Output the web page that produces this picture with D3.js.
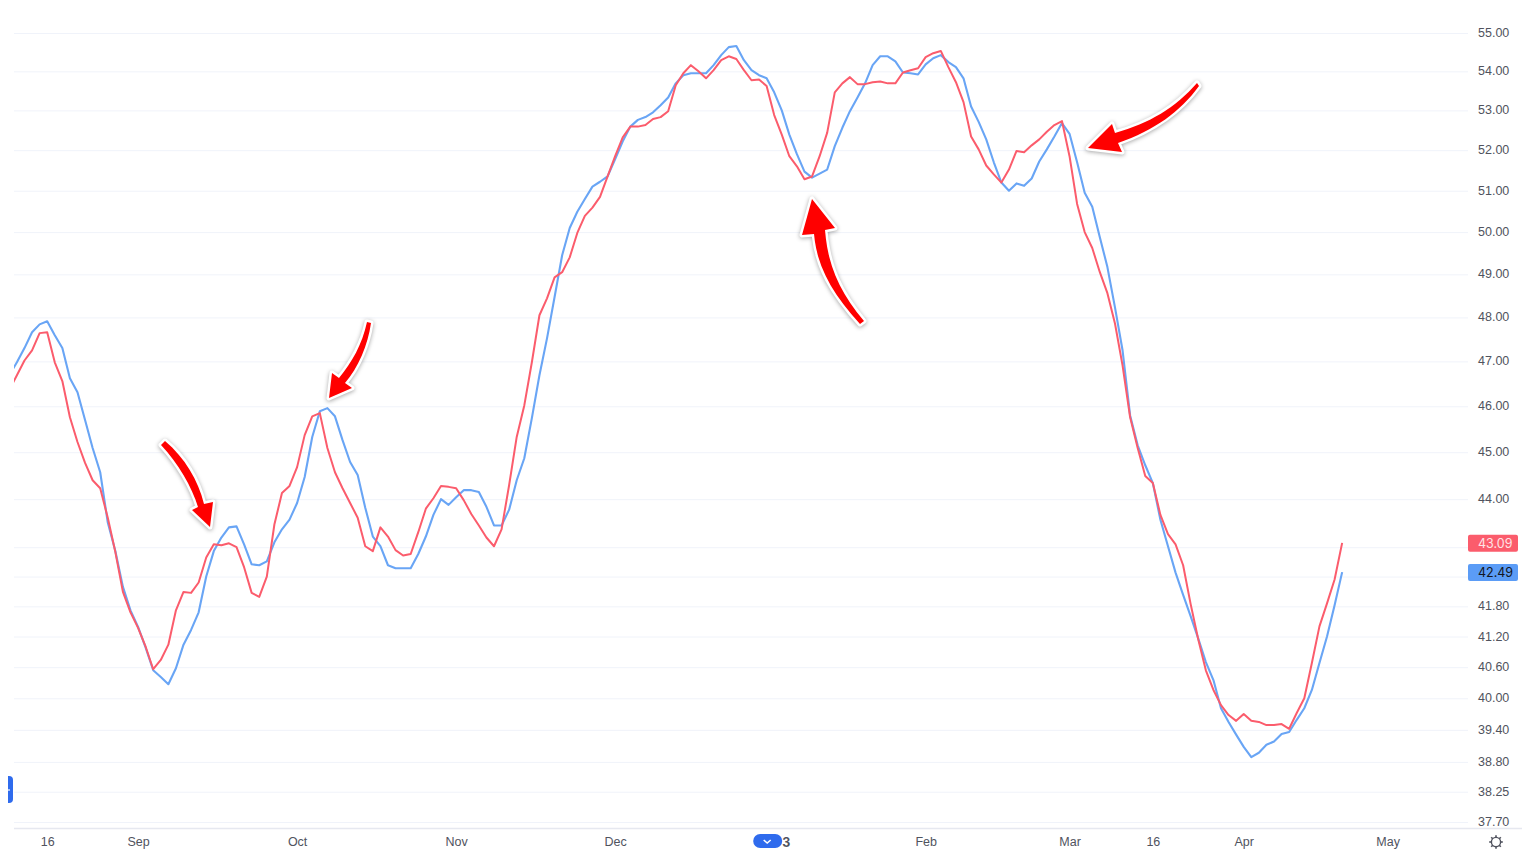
<!DOCTYPE html>
<html>
<head>
<meta charset="utf-8">
<script src="https://d3js.org/d3.v7.min.js"></script>
<style>
  html, body { margin: 0; padding: 0; background: #fff; overflow: hidden; }
  svg { display: block; font-family: Inter, "Noto Sans", sans-serif; }
  .axis text { font-size: 12.5px; fill: #50535e; }
  .arrow { fill: #ff0000; stroke: #fff; stroke-width: 5px; stroke-linejoin: round; paint-order: stroke;
           filter: drop-shadow(0 1px 2px rgba(0,0,0,.35)); }
</style>
</head>
<body>
<svg width="1536" height="867"></svg>
<script>
// one value per trading day
const redSeries = [
  46.36,46.69,47.02,47.25,47.64,47.66,46.98,46.56,45.76,45.22,
  44.77,44.40,44.23,43.61,42.90,42.09,41.68,41.37,41.00,40.56,
  40.74,41.04,41.72,42.09,42.07,42.28,42.79,43.06,43.04,43.08,
  43.00,42.59,42.07,41.99,42.40,43.47,44.13,44.28,44.68,45.37,
  45.78,45.85,45.09,44.57,44.23,43.92,43.61,43.02,42.92,43.41,
  43.22,42.94,42.83,42.86,43.31,43.80,44.02,44.28,44.26,44.23,
  43.98,43.69,43.45,43.20,43.02,43.37,44.30,45.33,46.02,46.98,
  48.05,48.44,48.93,49.05,49.40,49.98,50.39,50.59,50.85,51.35,
  51.85,52.32,52.59,52.59,52.63,52.78,52.83,52.98,53.64,53.95,
  54.16,54.00,53.82,54.03,54.29,54.39,54.32,54.03,53.77,53.79,
  53.62,52.88,52.39,51.85,51.60,51.28,51.35,51.85,52.44,53.46,
  53.69,53.85,53.67,53.67,53.72,53.74,53.69,53.69,53.97,54.03,
  54.08,54.37,54.47,54.53,54.11,53.72,53.21,52.34,52.02,51.62,
  51.40,51.20,51.52,51.98,51.95,52.12,52.27,52.46,52.63,52.73,
  51.85,50.68,50.00,49.62,49.05,48.56,47.86,46.91,45.76,45.09,
  44.49,44.34,43.67,43.27,43.06,42.63,41.84,41.14,40.54,40.16,
  39.87,39.68,39.57,39.70,39.57,39.55,39.49,39.49,39.51,39.42,
  39.72,40.00,40.68,41.40,41.86,42.34,43.09
];
const blueSeries = [
  46.69,46.98,47.30,47.66,47.84,47.91,47.59,47.30,46.62,46.31,
  45.70,45.09,44.57,43.51,42.92,42.19,41.72,41.39,40.98,40.54,
  40.41,40.27,40.58,41.04,41.33,41.68,42.40,42.92,43.20,43.41,
  43.43,43.06,42.65,42.63,42.71,43.10,43.37,43.57,43.92,44.47,
  45.33,45.89,45.96,45.78,45.26,44.79,44.51,43.82,43.22,43.02,
  42.63,42.57,42.57,42.57,42.86,43.22,43.67,44.00,43.88,44.04,
  44.19,44.19,44.15,43.84,43.45,43.45,43.78,44.40,44.87,45.74,
  46.69,47.52,48.47,49.45,50.10,50.49,50.80,51.10,51.22,51.35,
  51.78,52.22,52.59,52.76,52.83,52.95,53.13,53.33,53.69,53.90,
  53.95,53.95,53.95,54.16,54.42,54.63,54.66,54.29,54.03,53.90,
  53.82,53.46,53.00,52.39,51.90,51.47,51.32,51.42,51.52,52.10,
  52.56,52.98,53.33,53.69,54.16,54.39,54.39,54.26,53.97,53.95,
  53.92,54.18,54.34,54.42,54.24,54.11,53.82,53.10,52.71,52.27,
  51.70,51.20,51.00,51.18,51.12,51.30,51.72,52.02,52.34,52.68,
  52.41,51.70,50.95,50.61,49.88,49.17,48.23,47.25,45.80,45.15,
  44.72,44.34,43.57,43.02,42.48,42.03,41.60,41.16,40.70,40.35,
  39.81,39.55,39.31,39.08,38.89,38.97,39.12,39.18,39.32,39.36,
  39.59,39.81,40.16,40.68,41.20,41.82,42.49
];
const priceTicks = [55,54,53,52,51,50,49,48,47,46,45,44,43,42.4,41.8,41.2,40.6,40,39.4,38.8,38.25,37.7];
const coveredTicks = [43,42.4];  // sit behind the two price badges
const dayTicks = [5,17,38,59,80,121,140,151,163,182];
const dayLabels = ["16","Sep","Oct","Nov","Dec","Feb","Mar","16","Apr","May"];
const jumpDay = 101;
const jumpLabel = "3";

const svg = d3.select("svg");
const x = d3.scaleLinear().domain([0,182]).range([9.33,1387.6]);
const y = d3.scaleLog().domain([37.7,55]).range([822,33]);

svg.append("defs").append("clipPath").attr("id","plot")
  .append("rect").attr("x",14).attr("y",0).attr("width",1454).attr("height",828);

// grid
svg.append("g")
  .attr("transform","translate(14,0)")
  .call(d3.axisRight(y).tickValues(priceTicks).tickSize(1454).tickFormat(""))
  .call(g => g.select(".domain").remove())
  .selectAll("line").attr("stroke","#f0f3fa");

// price axis
svg.append("g").attr("class","axis")
  .attr("transform","translate(1478,-0.5)")
  .call(d3.axisRight(y).tickValues(priceTicks).tickSize(0).tickPadding(0)
    .tickFormat(d => coveredTicks.includes(d) ? "" : d.toFixed(2)))
  .call(g => g.select(".domain").remove());

// time axis
svg.append("line").attr("x1",14).attr("x2",1522).attr("y1",828.5).attr("y2",828.5)
  .attr("stroke","#e6e8f0").attr("stroke-width",1.5);
svg.append("g").attr("class","axis")
  .attr("transform","translate(0,831)")
  .call(d3.axisBottom(x).tickValues(dayTicks).tickSize(0).tickPadding(6)
    .tickFormat((d,i) => dayLabels[i]))
  .call(g => g.select(".domain").remove());

// lines
const line = d3.line().x((d,i) => x(i)).y(d => y(d));
const lines = svg.append("g").attr("clip-path","url(#plot)");
lines.append("path").datum(blueSeries).attr("d",line)
  .attr("fill","none").attr("stroke","#69a5f5").attr("stroke-width",2.1).attr("stroke-linejoin","round");
lines.append("path").datum(redSeries).attr("d",line)
  .attr("fill","none").attr("stroke","#fb5c6c").attr("stroke-width",2).attr("stroke-linejoin","round");

// last value badges
function badge(value, fill, textFill) {
  const cy = y(value);
  svg.append("rect").attr("x",1468).attr("y",cy-8).attr("width",50).attr("height",17)
    .attr("rx",2).attr("fill",fill);
  svg.append("text").attr("x",1478).attr("y",cy+0.5).attr("dy","0.34em")
    .attr("font-size",12.5).attr("fill",textFill).text(value.toFixed(2));
}
badge(redSeries[redSeries.length-1],"#fb5c6c","#ffe3e6");
badge(blueSeries[blueSeries.length-1],"#5b9cf6","#131722");

// jump to date button with the "3" next to it
const jx = x(jumpDay);
svg.append("rect").attr("x",jx-21).attr("y",834).attr("width",29).attr("height",14)
  .attr("rx",7).attr("fill","#2f6bed");
svg.append("path").attr("d",`M${jx-10.5},840 l3.5,3 l3.5,-3`)
  .attr("fill","none").attr("stroke","#fff").attr("stroke-width",1.6);
svg.append("text").attr("x",jx+12).attr("y",842).attr("dy","0.36em").attr("text-anchor","middle")
  .attr("font-size",12.5).attr("font-weight",700).attr("fill","#50535e").text(jumpLabel);

// scale handle on the left edge
svg.append("path").attr("d","M8,776 h1 q4,0 4,4 v19 q0,4 -4,4 h-1 z").attr("fill","#2f6bed");
svg.append("circle").attr("cx",9).attr("cy",790).attr("r",1).attr("fill","#cfdcfb");

// settings gear
const gear = svg.append("g").attr("transform","translate(1496,842)")
  .attr("fill","none").attr("stroke","#50535e");
gear.append("circle").attr("r",4.6).attr("stroke-width",1.4);
d3.range(8).forEach(k => {
  const a = k * Math.PI / 4;
  gear.append("line").attr("stroke-width",1.6)
    .attr("x1",4.6*Math.cos(a)).attr("y1",4.6*Math.sin(a))
    .attr("x2",6.8*Math.cos(a)).attr("y2",6.8*Math.sin(a));
});

// hand drawn red arrows
const arrows = [
  "M161,445 L165,441 C185,458 198,480 204,504 L213,502 L210,527 L192,510 L198,507 C192,487 178,463 161,445 Z",
  "M367,322 L371,323 C368,345 358,368 345,383 L352,388 L329,398 L332,373 L339,378 C352,362 362,345 367,322 Z",
  "M860,324 L864,321 C840,292 828,267 825,230 L835,228 L812,199 L802,235 L814,234 C817,267 832,293 860,324 Z",
  "M1197,83 L1199,86 C1180,112 1155,130 1118,143 L1122,152 L1088,148 L1112,124 L1115,133 C1150,123 1175,108 1197,83 Z"
];
svg.append("g").selectAll("path").data(arrows).enter().append("path")
  .attr("class","arrow").attr("d",d => d);
</script>
</body>
</html>
